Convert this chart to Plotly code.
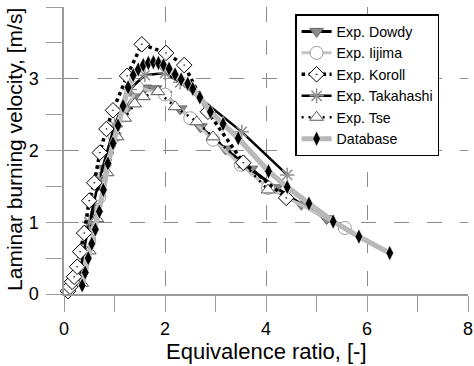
import plotly.graph_objects as go

# ---------------- data ----------------
dowdy_phi = [0.30, 0.40, 0.50, 0.60, 0.80, 1.00, 1.20, 1.40, 1.60, 1.80, 2.00, 2.30, 2.70, 3.20, 3.70, 4.20, 4.70, 5.20]
dowdy_u   = [0.20, 0.55, 0.90, 1.25, 1.75, 2.20, 2.55, 2.78, 2.87, 2.86, 2.78, 2.58, 2.33, 2.02, 1.74, 1.48, 1.25, 1.05]

iijima_phi = [0.30, 0.50, 0.70, 1.00, 1.45, 2.00, 2.50, 2.95, 3.50, 4.04, 5.56]
iijima_u   = [0.20, 0.75, 1.35, 2.20, 2.88, 2.78, 2.45, 2.15, 1.80, 1.48, 0.92]

koroll_phi = [0.08, 0.12, 0.16, 0.20, 0.26, 0.32, 0.40, 0.50, 0.60, 0.71, 0.84, 0.97, 1.25, 1.54, 2.02, 2.38, 2.85, 3.55, 4.40]
koroll_u   = [0.04, 0.10, 0.17, 0.24, 0.38, 0.59, 0.85, 1.30, 1.55, 1.97, 2.30, 2.56, 3.04, 3.48, 3.36, 3.19, 2.54, 1.83, 1.34]

takahashi_phi = [0.30, 0.50, 0.70, 1.00, 1.30, 1.60, 2.00, 2.30, 3.52, 4.42]
takahashi_u   = [0.25, 1.00, 1.60, 2.35, 2.85, 3.05, 3.08, 2.95, 2.26, 1.66]

tse_phi = [0.35, 0.50, 0.65, 0.85, 1.05, 1.20, 1.40, 1.57, 1.86, 2.20, 2.63, 2.95, 3.58, 4.04]
tse_u   = [0.15, 0.60, 1.05, 1.69, 2.19, 2.45, 2.65, 2.75, 2.82, 2.61, 2.40, 2.19, 1.80, 1.45]

db_phi = [0.36, 0.42, 0.48, 0.55, 0.62, 0.70, 0.78, 0.87, 0.97, 1.07, 1.17, 1.27, 1.37, 1.47, 1.57, 1.67,
          1.77, 1.87, 1.97, 2.08, 2.20, 2.32, 2.45, 2.55, 2.69, 2.90, 3.15, 3.45, 4.05, 4.42, 4.85, 5.33, 5.84, 6.45]
db_u   = [0.12, 0.30, 0.50, 0.70, 0.90, 1.15, 1.45, 1.82, 2.10, 2.35, 2.62, 2.88, 3.05, 3.13, 3.19, 3.22,
          3.23, 3.22, 3.19, 3.14, 3.06, 2.99, 2.93, 2.86, 2.74, 2.54, 2.37, 2.17, 1.71, 1.49, 1.26, 1.01, 0.80, 0.57]

x_ticks = [0, 2, 4, 6, 8]
y_ticks = [0, 1, 2, 3, 4]

FONT = "Liberation Sans, Arial, sans-serif"

fig = go.Figure()

fig.add_trace(go.Scatter(
    x=dowdy_phi, y=dowdy_u, name="Exp. Dowdy", mode="lines+markers",
    line=dict(color="black", width=3),
    marker=dict(symbol="triangle-down", size=12, color="#8a8a8a", line=dict(color="#6a6a6a", width=1)),
    cliponaxis=False))

fig.add_trace(go.Scatter(
    x=iijima_phi, y=iijima_u, name="Exp. Iijima", mode="lines+markers",
    line=dict(color="#c4c4c4", width=3),
    marker=dict(symbol="circle", size=13, color="white", line=dict(color="#9a9a9a", width=1)),
    cliponaxis=False))

fig.add_trace(go.Scatter(
    x=tse_phi, y=tse_u, name="Exp. Tse", mode="lines+markers",
    line=dict(color="black", width=2.5, dash="2px,5px"),
    marker=dict(symbol="triangle-up", size=12, color="white", line=dict(color="#555", width=1)),
    cliponaxis=False))

fig.add_trace(go.Scatter(
    x=takahashi_phi, y=takahashi_u, name="Exp. Takahashi", mode="lines+markers",
    line=dict(color="black", width=2.5),
    marker=dict(symbol="asterisk-open", size=12, color="#909090", line=dict(color="#909090", width=1.5)),
    cliponaxis=False))

fig.add_trace(go.Scatter(
    x=db_phi, y=db_u, name="Database", mode="lines",
    line=dict(color="#b8b8b8", width=5), showlegend=False, hoverinfo="skip",
    cliponaxis=False))

fig.add_trace(go.Scatter(
    x=koroll_phi, y=koroll_u, name="Exp. Koroll", mode="lines+markers",
    line=dict(color="black", width=3.5, dash="dot"),
    marker=dict(symbol="diamond-dot", size=12, color="white", line=dict(color="black", width=1)),
    cliponaxis=False))

fig.add_trace(go.Scatter(
    x=db_phi, y=db_u, name="Database", mode="lines+markers",
    line=dict(color="#b8b8b8", width=5),
    marker=dict(symbol="diamond-tall", size=11, color="black", line=dict(color="white", width=0.6)),
    cliponaxis=False))

# legend order
ranks = {"Exp. Dowdy": 1, "Exp. Iijima": 2, "Exp. Koroll": 3, "Exp. Takahashi": 4, "Exp. Tse": 5, "Database": 6}
for tr in fig.data:
    tr.legendrank = ranks[tr.name]

fig.update_layout(
    width=474, height=366,
    margin=dict(l=64, r=6, t=7, b=72, autoexpand=False),
    paper_bgcolor="white", plot_bgcolor="white",
    font=dict(family=FONT, color="black", size=18),
    showlegend=True,
    legend=dict(x=0.572, y=0.975, xanchor="left", yanchor="top",
                bgcolor="white", bordercolor="black", borderwidth=1.5,
                font=dict(family=FONT, size=14.2, color="black"),
                tracegroupgap=0),
    xaxis=dict(range=[0, 8], tickvals=x_ticks, ticktext=[str(v) for v in x_ticks],
               automargin=False,
               showline=True, linecolor="#9a9a9a", linewidth=1.5,
               ticks="", zeroline=False,
               showgrid=True, gridcolor="#8c8c8c", gridwidth=1.2, griddash="15px,18px",
               minor=dict(dtick=1, ticks="outside", ticklen=16, tickcolor="#9a9a9a", tickwidth=1.2, showgrid=False),
               ticklabelstandoff=18,
               tickfont=dict(size=18)),
    yaxis=dict(range=[0, 4], tickvals=y_ticks, ticktext=[str(v) for v in y_ticks],
               automargin=False,
               showline=True, linecolor="#9a9a9a", linewidth=1.5,
               ticks="outside", ticklen=8, tickcolor="#9a9a9a", tickwidth=1.2, zeroline=False,
               showgrid=True, gridcolor="#8c8c8c", gridwidth=1.2, griddash="15px,18px",
               minor=dict(dtick=0.5, ticks="outside", ticklen=16, tickcolor="#9a9a9a", tickwidth=1.2, showgrid=False),
               ticklabelstandoff=12,
               tickfont=dict(size=18)),
    annotations=[
        dict(text="Equivalence ratio, [-]", xref="paper", yref="paper", x=0.5, y=-0.199,
             xanchor="center", yanchor="middle", showarrow=False, font=dict(size=22, family=FONT)),
        dict(text="Laminar burning velocity, [m/s]", xref="paper", yref="paper", x=-0.124, y=0.505,
             xanchor="center", yanchor="middle", textangle=-90, showarrow=False, font=dict(size=21, family=FONT)),
    ],
)

fig.write_html("out.html", config={"displayModeBar": False},
               post_script="document.body.style.margin='0';document.body.style.overflow='hidden';")
